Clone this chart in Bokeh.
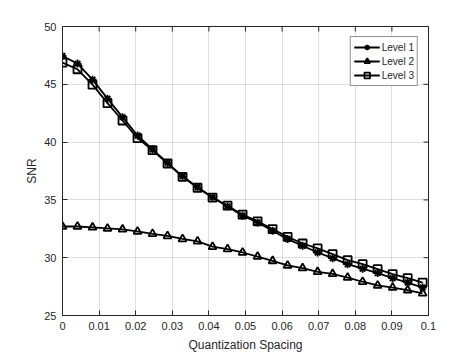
from bokeh.plotting import figure
from bokeh.models import FixedTicker, Range1d, Legend, LegendItem
from bokeh.embed import file_html
from bokeh.resources import INLINE

# Data
x_vals = [i * 0.0041 for i in range(25)]
level1 = [47.45, 46.79, 45.40, 43.76, 42.16, 40.57, 39.36, 38.20, 37.04, 36.09,
          35.22, 34.44, 33.63, 33.05, 32.33, 31.61, 31.03, 30.45, 29.96, 29.44,
          29.05, 28.67, 28.23, 27.85, 27.42]
level2 = [32.70, 32.70, 32.62, 32.53, 32.45, 32.27, 32.07, 31.88, 31.62, 31.42,
          30.95, 30.75, 30.45, 30.10, 29.72, 29.33, 29.10, 28.78, 28.60, 28.28,
          27.92, 27.60, 27.42, 27.19, 26.92]
level3 = [46.88, 46.30, 44.97, 43.37, 41.87, 40.34, 39.30, 38.15, 37.00, 36.05,
          35.20, 34.50, 33.72, 33.15, 32.48, 31.81, 31.23, 30.80, 30.31, 29.79,
          29.44, 29.01, 28.58, 28.23, 27.85]
x_ticks = [0, 0.01, 0.02, 0.03, 0.04, 0.05, 0.06, 0.07, 0.08, 0.09, 0.1]
x_tick_labels = ["0", "0.01", "0.02", "0.03", "0.04", "0.05", "0.06", "0.07", "0.08", "0.09", "0.1"]
y_ticks = [25, 30, 35, 40, 45, 50]
series_names = ["Level 1", "Level 2", "Level 3"]

FONT = "Liberation Sans"
TXT = "#262626"
X0, X1, Y0, Y1 = 0, 0.1, 25, 50
W, H = 474, 355
ML, MR, MT, MB = 62, 46, 26, 40

p = figure(width=W, height=H, output_backend="svg", toolbar_location=None,
           x_range=Range1d(X0, X1), y_range=Range1d(Y0, Y1),
           min_border_left=ML, min_border_right=MR, min_border_top=MT, min_border_bottom=MB)
p.background_fill_color = "white"
p.border_fill_color = "white"
p.outline_line_color = TXT
p.outline_line_width = 1

for ax in [p.xaxis[0], p.yaxis[0]]:
    ax.major_tick_in = 5
    ax.major_tick_out = 0
    ax.minor_tick_line_color = None
    ax.axis_line_color = TXT
    ax.major_tick_line_color = TXT
    ax.major_label_text_font = FONT
    ax.major_label_text_font_size = "11px"
    ax.major_label_text_color = TXT
    ax.axis_label_text_font = FONT
    ax.axis_label_text_font_size = "12px"
    ax.axis_label_text_font_style = "normal"
    ax.axis_label_text_color = TXT

p.xaxis[0].ticker = FixedTicker(ticks=x_ticks)
p.xaxis[0].major_label_overrides = {t: l for t, l in zip(x_ticks, x_tick_labels)}
p.yaxis[0].ticker = FixedTicker(ticks=y_ticks)
p.xaxis[0].axis_label = "Quantization Spacing"
p.yaxis[0].axis_label = "SNR"
p.xaxis[0].axis_label_standoff = 5
p.yaxis[0].axis_label_standoff = 2
p.xaxis[0].major_label_standoff = 6
p.yaxis[0].major_label_standoff = 6

# inward ticks on top and right edges of the box (5 px long)
fw = W - ML - MR
fh = H - MT - MB
dx = 5 * (X1 - X0) / fw
dy = 5 * (Y1 - Y0) / fh
p.segment(x0=x_ticks, y0=[Y1] * len(x_ticks), x1=x_ticks, y1=[Y1 - dy] * len(x_ticks),
          line_color=TXT, line_width=1)
p.segment(x0=[X1] * len(y_ticks), y0=y_ticks, x1=[X1 - dx] * len(y_ticks), y1=y_ticks,
          line_color=TXT, line_width=1)

p.xgrid.ticker = FixedTicker(ticks=x_ticks)
p.ygrid.ticker = FixedTicker(ticks=y_ticks)
p.grid.grid_line_color = TXT
p.grid.grid_line_alpha = 0.15

items = []
markers = ["asterisk", "triangle", "square"]
for name, ys, mk in zip(series_names, [level1, level2, level3], markers):
    r1 = p.line(x_vals, ys, line_color="black", line_width=1.8)
    r2 = p.scatter(x_vals, ys, marker=mk, size=8, line_color="black", line_width=1.8,
                   fill_color=None)
    items.append(LegendItem(label=name, renderers=[r1, r2]))

legend = Legend(items=items, location="top_right")
legend.margin = 10
legend.padding = 3
legend.spacing = 0
legend.label_text_font = FONT
legend.label_text_font_size = "10px"
legend.label_text_color = TXT
legend.label_height = 14
legend.glyph_height = 14
legend.glyph_width = 26
legend.label_standoff = 2
legend.border_line_color = TXT
legend.border_line_width = 1
legend.background_fill_color = "white"
legend.background_fill_alpha = 1
p.add_layout(legend, "center")

open("out.html", "w").write(file_html(p, INLINE))
